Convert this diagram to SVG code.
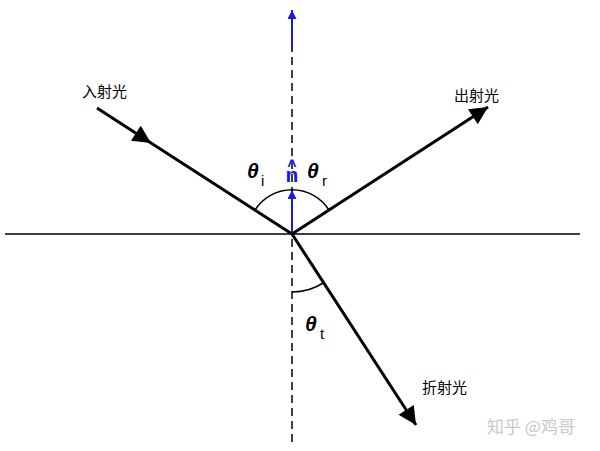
<svg xmlns="http://www.w3.org/2000/svg" width="600" height="451" viewBox="0 0 600 451">
<style>
.ray{stroke:#000;stroke-width:3;fill:none}
.thin{stroke:#000;stroke-width:1.5;fill:none}
.blue{stroke:#1a1adc;stroke-width:2;fill:none}
.cn{font-family:"Noto Sans CJK SC","Noto Sans",sans-serif;font-size:15px;fill:#000}
.th{font-family:"Liberation Sans",sans-serif;font-size:21px;font-weight:bold;font-style:italic;fill:#000}
.sub{font-family:"Liberation Sans",sans-serif;font-size:15px;fill:#000}
.nh{font-family:"Liberation Sans",sans-serif;font-weight:bold;fill:#1a1adc}
</style>
<defs>
<marker id="ah" viewBox="0 0 10 10" refX="10" refY="5" markerUnits="userSpaceOnUse" markerWidth="26" markerHeight="18" orient="auto"><path d="M0,0 L10,5 L0,10 z" fill="#000"/></marker>
<marker id="bh" viewBox="0 0 10 10" refX="10" refY="5" markerUnits="userSpaceOnUse" markerWidth="13" markerHeight="9" orient="auto"><path d="M0,0 L10,5 L0,10 z" fill="#1a1adc"/></marker>
</defs>
<rect width="600" height="451" fill="#fff"/>
<g id="connectors">
<line class="thin" x1="5" y1="234" x2="580" y2="234"/>
<line class="thin" x1="292" y1="44" x2="292" y2="447" stroke-dasharray="8,5"/>
<line class="blue" x1="292" y1="50" x2="292" y2="10" marker-end="url(#bh)"/>
<line class="blue" x1="292" y1="234" x2="292" y2="190" marker-end="url(#bh)"/>
<path class="ray" d="M97,108 L151,143 L292,234" marker-mid="url(#ah)"/>
<line class="ray" x1="292" y1="234" x2="488" y2="107" marker-end="url(#ah)"/>
<line class="ray" x1="292" y1="234" x2="416" y2="425" marker-end="url(#ah)"/>
<path class="thin" d="M255,210 A44,44 0 0 1 329,210"/>
<path class="thin" d="M292,292 A58,58 0 0 0 324,282.5"/>
</g>
<g id="incident"><text class="cn" x="82" y="97">入射光</text></g>
<g id="reflected"><text class="cn" x="454" y="101">出射光</text></g>
<g id="refracted"><text class="cn" x="422" y="393">折射光</text></g>
<g id="theta-i"><text class="th" x="247" y="178">θ</text><text class="sub" x="261" y="186">i</text></g>
<g id="theta-r"><text class="th" x="307" y="178">θ</text><text class="sub" x="322" y="186">r</text></g>
<g id="theta-t"><text class="th" x="305" y="331">θ</text><text class="sub" x="320" y="339">t</text></g>
<g id="normal"><text class="nh" font-size="21"><tspan x="285.6" y="182">n</tspan><tspan x="287.3" y="171" font-size="16">^</tspan></text></g>
<g id="watermark"><text x="487" y="433" font-family="Noto Sans CJK SC,sans-serif" font-size="17" fill="#c8c8c8">知乎 @鸡哥</text></g>
</svg>
